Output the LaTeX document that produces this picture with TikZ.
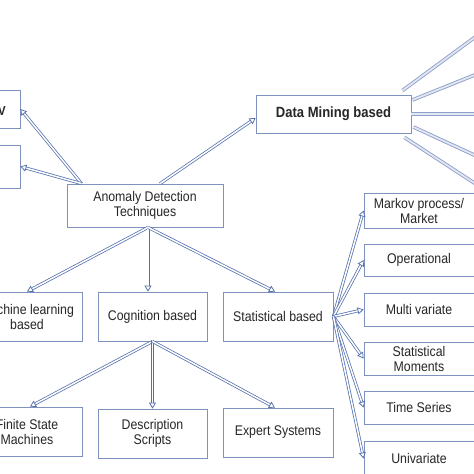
\documentclass[tikz,border=0pt]{standalone}
\usepackage{fontspec}
\setmainfont{Liberation Sans}[FakeStretch=0.88]
\usetikzlibrary{arrows.meta,calc}
\definecolor{boxc}{HTML}{7F92BE}
\definecolor{arrc}{HTML}{5470AC}
\definecolor{fanc}{HTML}{8EA0CB}
\definecolor{txtc}{HTML}{262626}
\begin{document}
\begin{tikzpicture}[x=1pt,y=-1pt,
  box/.style={draw=boxc, line width=0.8pt, fill=white, text=txtc,
    font=\fontsize{14}{15}\selectfont, align=center, inner sep=0pt},
  dbl/.style={draw=arrc, line width=0.75pt, double=white, double distance=1.5pt},
  arr/.style={dbl, -{Triangle[open,length=6pt,width=7pt]}},
  fan/.style={draw=fanc, line width=0.9pt, double=white!75!fanc, double distance=1.8pt}]
\useasboundingbox (0,0) rectangle (474,474);
\clip (0,0) rectangle (474,474);
\fill[white] (0,0) rectangle (474,474);
% left partial boxes
\node[box, minimum width=58pt, minimum height=38pt] (b1) at (-9,109) {};
\node[text=txtc, font=\bfseries\fontsize{13}{15}\selectfont, anchor=east, inner sep=0pt] (b1t) at (6,111) {V};
\node[box, minimum width=58pt, minimum height=43pt] (b2) at (-9,166.5) {};
% main nodes
\node[box, minimum width=156pt, minimum height=43pt] (adt) at (145,205.5) {Anomaly Detection\\Techniques};
\node[box, minimum width=155pt, minimum height=38pt, font=\bfseries\fontsize{14.8}{16}\selectfont] (dm) at (333.5,114) {Data Mining based};
\node[box, minimum width=110pt, minimum height=49pt] (ml) at (27,316.5) {Machine learning\\based};
\node[box, minimum width=109pt, minimum height=49pt] (cog) at (152.5,316.5) {Cognition based};
\node[box, minimum width=110pt, minimum height=49pt] (stat) at (278,316.5) {Statistical based};
\node[box, minimum width=110pt, minimum height=49pt] (fsm) at (27,431.5) {Finite State\\Machines};
\node[box, minimum width=109pt, minimum height=49pt] (ds) at (152.5,433.5) {Description\\Scripts};
\node[box, minimum width=110pt, minimum height=49pt] (es) at (278,432.5) {Expert Systems};
% right column
\node[box, minimum width=110pt, minimum height=35pt] (mk) at (419,210.5) {Markov process/\\Market};
\node[box, minimum width=110pt, minimum height=32pt] (op) at (419,260) {Operational};
\node[box, minimum width=110pt, minimum height=33pt] (mv) at (419,309.5) {Multi variate};
\node[box, minimum width=110pt, minimum height=33pt] (sm) at (419,358.5) {Statistical\\Moments};
\node[box, minimum width=110pt, minimum height=33pt] (ts) at (419,407.5) {Time Series};
\node[box, minimum width=110pt, minimum height=35pt] (uv) at (419,458.5) {Univariate};
% connectors from ADT
\coordinate (adtL) at ($(adt.north west)+(15,0)$);
\draw[arr] (adtL) -- (b1.east);
\draw[arr] (adtL) -- (b2.east);
\draw[arr] ($(adt.north)+(15,0)$) -- ($(dm.west)+(0,4)$);
\coordinate (adtS) at ($(adt.south)+(3,0)$);
\coordinate (cogN) at ($(cog.north)+(-4.5,0)$);
\draw[arr] (adtS) -- (ml.north);
\draw[arr] (adtS) -- (cogN);
\draw[arr] (adtS) -- ($(stat.north)+(-3,0)$);
% from cognition
\coordinate (cogS) at (cog.south);
\draw[arr] (cogS) -- ($(fsm.north)+(3,0)$);
\draw[arr] (cogS) -- (ds.north);
\draw[arr] (cogS) -- ($(es.north)+(-3,0)$);
% from statistical
\coordinate (statE) at (stat.east);
\foreach \t in {mk,op,mv,sm,ts,uv} {\draw[arr] (statE) -- (\t.west);}
% fan from data mining
\coordinate (f1) at (482,32);
\coordinate (f2) at (482,72);
\coordinate (f3) at (482,114);
\coordinate (f4) at (482,158.6);
\coordinate (f5) at (482,188);
\draw[fan] ($(dm.north east)+(-9,-4)$) -- (f1);
\draw[fan] ($(dm.east)+(1,-14)$) -- (f2);
\draw[fan] (dm.east) -- (f3);
\draw[fan] ($(dm.east)+(2,13)$) -- (f4);
\draw[fan] ($(dm.south east)+(-7,4)$) -- (f5);
\end{tikzpicture}
\end{document}
